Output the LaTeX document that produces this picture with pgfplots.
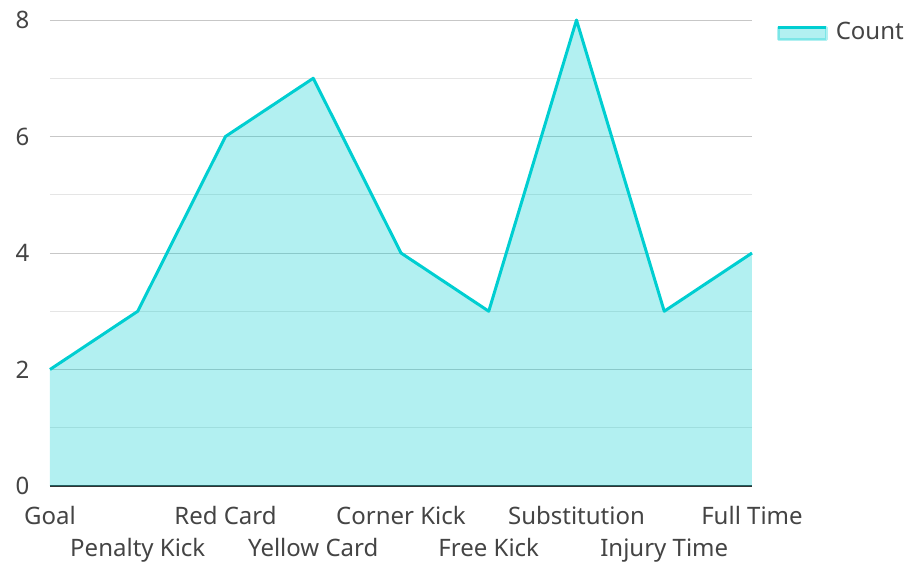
\documentclass[border=0pt]{standalone}
\usepackage{fontspec}
\setmainfont{Noto Sans}
\usepackage{pgfplots}
\pgfplotsset{compat=1.18}
\definecolor{linec}{RGB}{0,206,209}
\definecolor{txt}{RGB}{68,68,68}
\begin{document}
\begin{tikzpicture}[x=1pt,y=1pt]
\useasboundingbox (0,0) rectangle (910,562);
\begin{axis}[
  at={(50pt,76pt)}, anchor=south west,
  width=702pt, height=466pt, scale only axis,
  xmin=0, xmax=8, ymin=0, ymax=8,
  clip=false,
  axis x line=bottom, axis y line=left,
  y axis line style={draw=none},
  x axis line style={draw=black!80, line width=1.8pt, -},
  ytick={0,2,4,6,8}, minor ytick={1,3,5,7},
  ymajorgrids, yminorgrids,
  major grid style={draw=black!22, line width=1pt},
  minor grid style={draw=black!10, line width=1pt},
  major tick length=0pt, minor tick length=0pt,
  /pgf/number format/assume math mode=true,
  ticklabel style={font=\fontsize{24}{28}\selectfont, text=txt},
  yticklabel style={xshift=-17pt},
  xtick={0,...,8},
  xticklabels={Goal,\raisebox{-32pt}{Penalty Kick},Red Card,\raisebox{-32pt}{Yellow Card},Corner Kick,\raisebox{-32pt}{Free Kick},Substitution,\raisebox{-32pt}{Injury Time},Full Time},
  xticklabel style={text height=17pt, text depth=5pt, inner sep=0pt, yshift=-21pt},
  legend style={at={(1.035,1)}, anchor=north west, draw=none, fill=none,
    font=\fontsize{24}{28}\selectfont, text=txt, inner sep=0pt, column sep=6pt},
  legend cell align=left,
  legend image code/.code={
    \fill[linec, opacity=0.3] (0pt,-8pt) rectangle (48pt,4pt);
    \draw[linec, line width=3pt] (0pt,4pt) -- (48pt,4pt);
  },
]
\addplot[fill=linec, fill opacity=0.3, draw=none, forget plot] coordinates {
(0,2) (1,3) (2,6) (3,7) (4,4) (5,3) (6,8) (7,3) (8,4)} \closedcycle;
\addplot[linec, line width=3pt, line join=round] coordinates {
(0,2) (1,3) (2,6) (3,7) (4,4) (5,3) (6,8) (7,3) (8,4)};
\addlegendentry{Count}
\end{axis}
\end{tikzpicture}
\end{document}
